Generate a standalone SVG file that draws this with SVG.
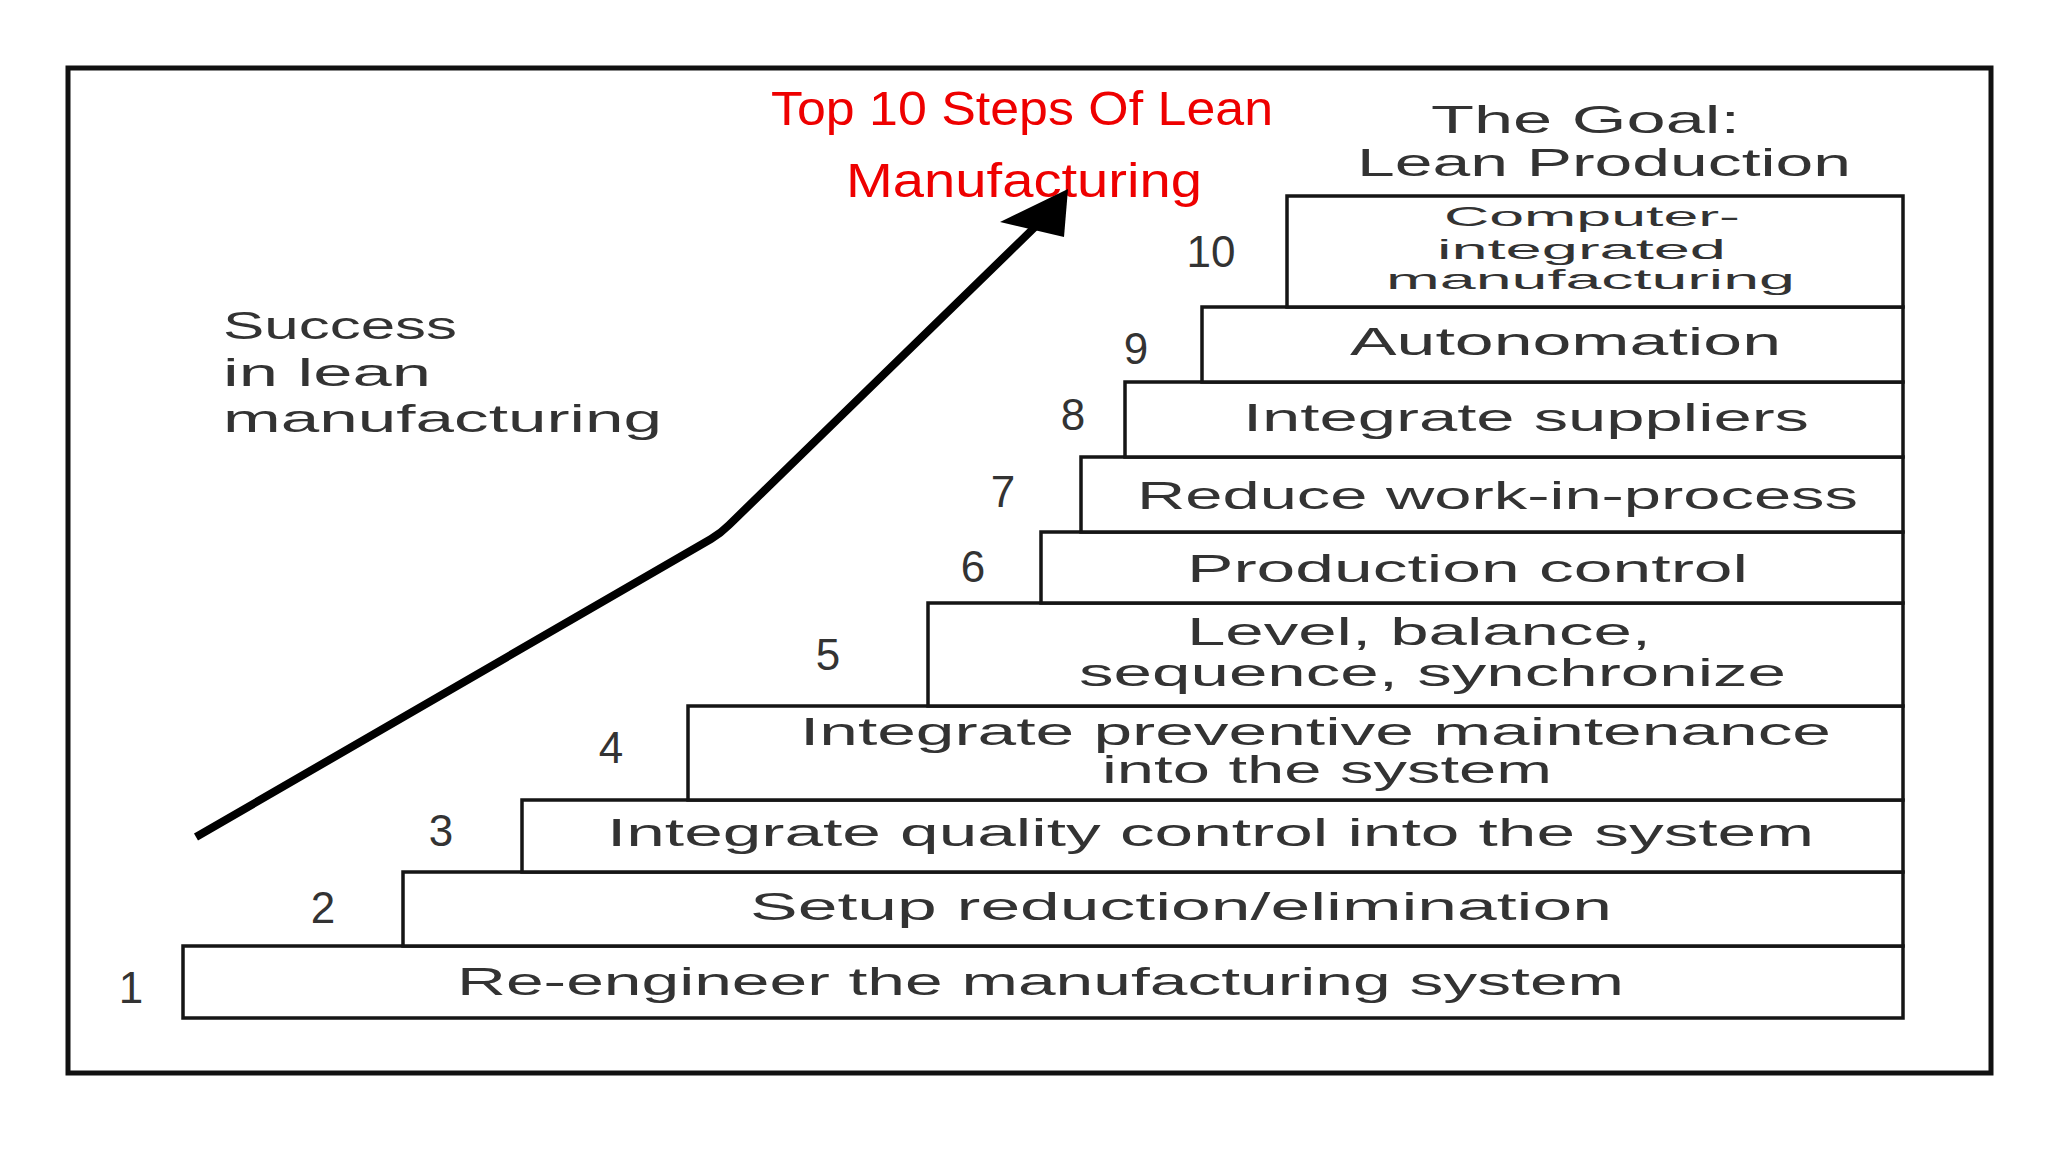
<svg xmlns="http://www.w3.org/2000/svg" width="2048" height="1152" viewBox="0 0 2048 1152">
<style>
.box{fill:#fff;stroke:#151515;stroke-width:3.5}
.t{font-family:"Liberation Sans",Arial,sans-serif;fill:#333;font-size:38px}
.s{font-size:28px}
.n{font-family:"Liberation Sans",Arial,sans-serif;fill:#333;font-size:44px;text-anchor:middle}
.big{font-size:39px}
.red{font-family:"Liberation Sans",Arial,sans-serif;fill:#ee0000;font-size:49px}
</style>
<rect x="0" y="0" width="2048" height="1152" fill="#fff"/>
<rect id="frame" x="68" y="68" width="1923" height="1005" fill="#fff" stroke="#111" stroke-width="5"/>

<g id="title">
<text class="red" x="771" y="125" textLength="502" lengthAdjust="spacingAndGlyphs">Top 10 Steps Of Lean</text>
<text class="red" x="846" y="197" textLength="356" lengthAdjust="spacingAndGlyphs">Manufacturing</text>
</g>

<g id="goal">
<text class="t big" x="1431" y="133" textLength="309" lengthAdjust="spacingAndGlyphs">The Goal:</text>
<text class="t big" x="1357" y="176" textLength="494" lengthAdjust="spacingAndGlyphs">Lean Production</text>
</g>

<g id="success">
<text class="t big" x="223" y="339" textLength="234" lengthAdjust="spacingAndGlyphs">Success</text>
<text class="t big" x="223" y="386" textLength="208" lengthAdjust="spacingAndGlyphs">in lean</text>
<text class="t big" x="223" y="432" textLength="439" lengthAdjust="spacingAndGlyphs">manufacturing</text>
</g>

<g id="connectors">
<path d="M196,837 L711,539 Q721,533 729,525 L1036,226" fill="none" stroke="#000" stroke-width="8"/>
<polygon points="1068,189 1000,222 1064,237" fill="#000"/>
</g>

<g id="step1">
<rect class="box" x="183" y="946" width="1720" height="72"/>
<text class="n" x="131" y="1003">1</text>
<text class="t" x="457" y="995" textLength="1167" lengthAdjust="spacingAndGlyphs">Re-engineer the manufacturing system</text>
</g>
<g id="step2">
<rect class="box" x="403" y="872" width="1500" height="74"/>
<text class="n" x="323" y="923">2</text>
<text class="t" x="750" y="920" textLength="862" lengthAdjust="spacingAndGlyphs">Setup reduction/elimination</text>
</g>
<g id="step3">
<rect class="box" x="522" y="800" width="1381" height="72"/>
<text class="n" x="441" y="846">3</text>
<text class="t" x="607" y="846" textLength="1207" lengthAdjust="spacingAndGlyphs">Integrate quality control into the system</text>
</g>
<g id="step4">
<rect class="box" x="688" y="706" width="1215" height="94"/>
<text class="n" x="611" y="763">4</text>
<text class="t" x="800" y="745" textLength="1031" lengthAdjust="spacingAndGlyphs">Integrate preventive maintenance</text>
<text class="t" x="1102" y="783" textLength="450" lengthAdjust="spacingAndGlyphs">into the system</text>
</g>
<g id="step5">
<rect class="box" x="928" y="603" width="975" height="103"/>
<text class="n" x="828" y="670">5</text>
<text class="t" x="1187" y="645" textLength="464" lengthAdjust="spacingAndGlyphs">Level, balance,</text>
<text class="t" x="1079" y="686" textLength="707" lengthAdjust="spacingAndGlyphs">sequence, synchronize</text>
</g>
<g id="step6">
<rect class="box" x="1041" y="532" width="862" height="71"/>
<text class="n" x="973" y="582">6</text>
<text class="t" x="1187" y="582" textLength="561" lengthAdjust="spacingAndGlyphs">Production control</text>
</g>
<g id="step7">
<rect class="box" x="1081" y="457" width="822" height="75"/>
<text class="n" x="1003" y="507">7</text>
<text class="t" x="1137" y="509" textLength="721" lengthAdjust="spacingAndGlyphs">Reduce work-in-process</text>
</g>
<g id="step8">
<rect class="box" x="1125" y="382" width="778" height="75"/>
<text class="n" x="1073" y="430">8</text>
<text class="t" x="1243" y="431" textLength="566" lengthAdjust="spacingAndGlyphs">Integrate suppliers</text>
</g>
<g id="step9">
<rect class="box" x="1202" y="307" width="701" height="75"/>
<text class="n" x="1136" y="364">9</text>
<text class="t" x="1350" y="355" textLength="431" lengthAdjust="spacingAndGlyphs">Autonomation</text>
</g>
<g id="step10">
<rect class="box" x="1287" y="196" width="616" height="111"/>
<text class="n" x="1211" y="267">10</text>
<text class="t s" x="1444" y="226" textLength="296" lengthAdjust="spacingAndGlyphs">Computer-</text>
<text class="t s" x="1437" y="259" textLength="289" lengthAdjust="spacingAndGlyphs">integrated</text>
<text class="t s" x="1386" y="289" textLength="409" lengthAdjust="spacingAndGlyphs">manufacturing</text>
</g>
</svg>
